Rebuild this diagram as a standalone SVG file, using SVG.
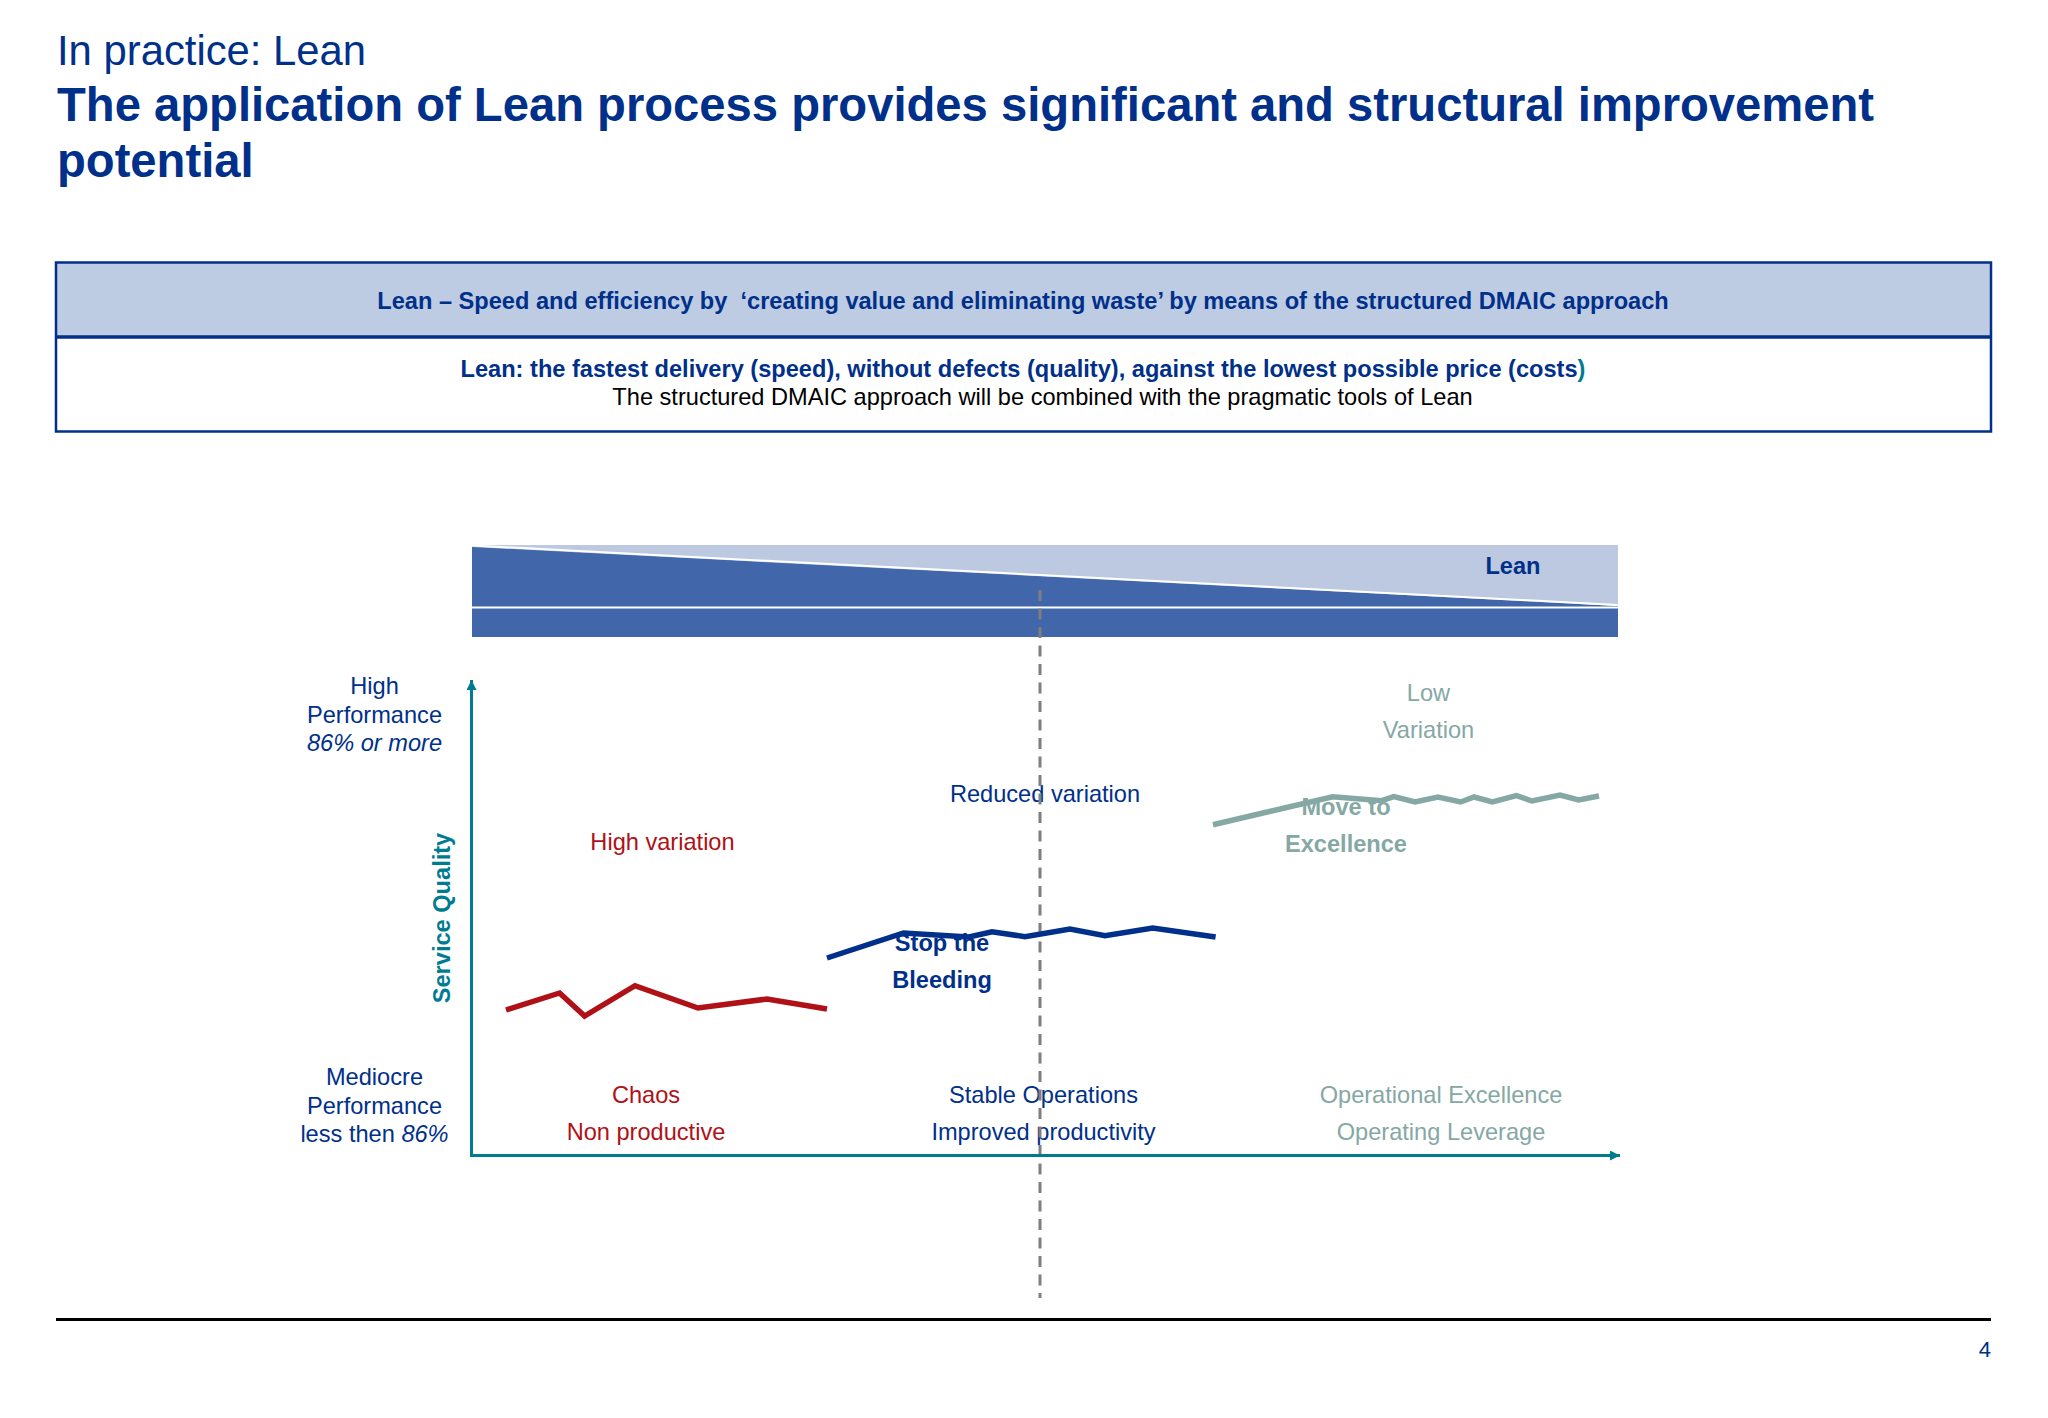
<svg xmlns="http://www.w3.org/2000/svg" width="2048" height="1418" viewBox="0 0 2048 1418">
<defs>
<style>
text{font-family:"Liberation Sans",Arial,sans-serif;font-size:23.600px;fill:#00308a;text-anchor:middle;white-space:pre}
.st{text-anchor:start}
.b{font-weight:700}
.red{fill:#b01116}
.sage{fill:#85a8a5}
.teal{fill:#007c91}
.curve{fill:none;stroke-width:5.500;stroke-linejoin:miter}
</style>
<marker id="ah" markerUnits="userSpaceOnUse" markerWidth="12" markerHeight="12" refX="10" refY="5" orient="auto"><path d="M0 0L10 5L0 10Z" fill="#007c91"/></marker>
</defs>
<rect width="2048" height="1418" fill="#fff"/>
<g id="title">
<text class="st" x="57" y="65" style="font-size:41.800px">In practice: Lean</text>
<text class="st b" x="57" y="120.500" style="font-size:47.200px">The application of Lean process provides significant and structural improvement</text>
<text class="st b" x="57" y="177" style="font-size:47.200px">potential</text>
</g>
<g id="header-box">
<rect x="56" y="262.500" width="1935" height="74.500" fill="#bdcbe3"/>
<rect x="56" y="337" width="1935" height="94.500" fill="#fff"/>
<path d="M56 262.500H1991V431.500H56Z" fill="none" stroke="#00308a" stroke-width="2.500"/>
<path d="M56 337H1991" stroke="#00308a" stroke-width="3.500"/>
<text class="b" x="1023" y="309">Lean – Speed and efficiency by  ‘creating value and eliminating waste’ by means of the structured DMAIC approach</text>
<text class="b" x="1023" y="377">Lean: the fastest delivery (speed), without defects (quality), against the lowest possible price (costs<tspan class="teal">)</tspan></text>
<text x="1042.500" y="405" style="fill:#000">The structured DMAIC approach will be combined with the pragmatic tools of Lean</text>
</g>
<g id="lean-bar">
<rect x="472" y="545" width="1146" height="59" fill="#bdc9e1"/>
<path d="M472 547L1618 606V637H472Z" fill="#4166a9"/>
<path d="M472 545.500L1618 605" stroke="#fff" stroke-width="2" fill="none"/>
<path d="M472 607.500H1618" stroke="#fff" stroke-width="1.800" fill="none"/>
<text class="b" x="1513" y="573.500">Lean</text>
</g>
<g id="label-high"><text x="374.500" y="694">High</text><text x="374.500" y="722.500">Performance</text><text x="374.500" y="751" font-style="italic">86% or more</text></g>
<g id="label-mediocre"><text x="374.500" y="1085">Mediocre</text><text x="374.500" y="1113.500">Performance</text><text x="374.500" y="1142">less then <tspan font-style="italic">86%</tspan></text></g>
<g id="label-y"><text class="b teal" transform="translate(450 918) rotate(-90)">Service Quality</text></g>
<g id="phase-chaos"><text class="red" x="662.500" y="850">High variation</text><text class="red" x="646" y="1103">Chaos</text><text class="red" x="646" y="1140">Non productive</text></g>
<g id="phase-stable"><text x="1045" y="802">Reduced variation</text><text class="b" x="942" y="951">Stop the</text><text class="b" x="942" y="988">Bleeding</text><text x="1043.500" y="1103">Stable Operations</text><text x="1043.500" y="1140">Improved productivity</text></g>
<g id="phase-excellence"><text class="sage" x="1428.500" y="701">Low</text><text class="sage" x="1428.500" y="738">Variation</text><text class="sage b" x="1346" y="815">Move to</text><text class="sage b" x="1346" y="852">Excellence</text><text class="sage" x="1441" y="1103">Operational Excellence</text><text class="sage" x="1441" y="1140">Operating Leverage</text></g>
<g id="footer">
<path d="M56 1319.500H1991" stroke="#000" stroke-width="3"/>
<text x="1991" y="1357" style="text-anchor:end;font-size:22px">4</text>
</g>
<g id="connectors">
<path d="M1040 590V1298" fill="none" stroke="#7f7f7f" stroke-width="3" stroke-dasharray="11 7.500"/>
<path d="M471.500 1155V680" fill="none" stroke="#007c91" stroke-width="3" marker-end="url(#ah)"/>
<path d="M470 1155.500H1620" fill="none" stroke="#007c91" stroke-width="3" marker-end="url(#ah)"/>
<polyline class="curve" stroke="#b01116" points="506,1010 559.600,993 584.600,1016 635,985.700 698,1008 767,999 827,1009"/>
<polyline class="curve" stroke="#00308a" points="827,958 903.500,933 969,937 992,931.700 1025,936.700 1070,929 1105,935.700 1152.700,928 1215.600,937"/>
<polyline class="curve" stroke="#85a8a5" points="1213,824.700 1332.600,796.700 1381.700,800.700 1393.800,796.700 1415,802 1438,797 1460.700,802 1474,797 1492.400,802 1516.500,795.700 1532,801 1560,795 1578.600,800 1599,796"/>
</g>
</svg>
